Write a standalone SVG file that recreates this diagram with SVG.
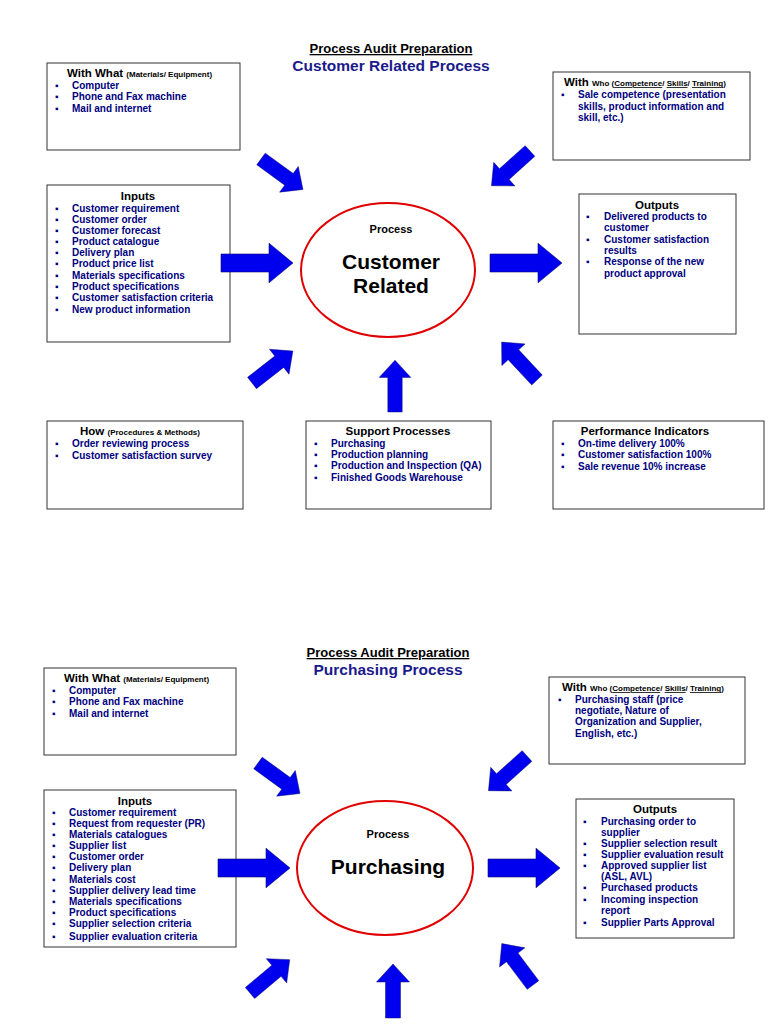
<svg xmlns="http://www.w3.org/2000/svg" width="768" height="1024" viewBox="0 0 768 1024">
<style>
text{font-family:"Liberation Sans",Arial,sans-serif;font-weight:bold}
.box{fill:#fff;stroke:#333;stroke-width:1}
.it{font-size:10px;fill:#000080}
.hd{font-size:11.5px;fill:#000}
.sm{font-size:8px;fill:#000}
.t1{font-size:13px;fill:#000;text-decoration:underline}
.t2{font-size:15.5px;fill:#1a1a8c}
.el{fill:#fff;stroke:#e00000;stroke-width:2}
.arr{fill:#0000ee;stroke:#000066;stroke-width:0.6}
</style>
<defs>
<path id="a" d="M0,-10 H48 V-22 L72,0 L48,22 V10 H0 Z"/>
</defs>
<rect width="768" height="1024" fill="#fff"/>

<g id="page1">
<text class="t1" x="391" y="53" text-anchor="middle">Process Audit Preparation</text>
<text class="t2" x="391" y="71" text-anchor="middle">Customer Related Process</text>
<g id="withwhat1"><rect class="box" x="47" y="63" width="193" height="87"/>
<text x="67" y="77"><tspan class="hd">With What </tspan><tspan class="sm">(Materials/ Equipment)</tspan></text>
<text class="it"><tspan x="55" y="89">▪</tspan><tspan x="72" y="89">Computer</tspan><tspan x="55" y="100">▪</tspan><tspan x="72" y="100">Phone and Fax machine</tspan><tspan x="55" y="112">▪</tspan><tspan x="72" y="112">Mail and internet</tspan></text></g>
<g id="withwho1"><rect class="box" x="553" y="72" width="197" height="88"/>
<text x="564" y="86"><tspan class="hd">With </tspan><tspan class="sm">Who (<tspan text-decoration="underline">Competence</tspan>/ <tspan text-decoration="underline">Skills</tspan>/ <tspan text-decoration="underline">Training</tspan>)</tspan></text>
<text class="it"><tspan x="561" y="98">▪</tspan><tspan x="578" y="98">Sale competence (presentation</tspan><tspan x="578" y="110">skills, product information and</tspan><tspan x="578" y="121">skill, etc.)</tspan></text></g>
<g id="inputs1"><rect class="box" x="47" y="185" width="183" height="157"/>
<text class="hd" x="138" y="200" text-anchor="middle">Inputs</text>
<text class="it"><tspan x="55" y="212">▪</tspan><tspan x="72" y="212">Customer requirement</tspan><tspan x="55" y="223">▪</tspan><tspan x="72" y="223">Customer order</tspan><tspan x="55" y="234">▪</tspan><tspan x="72" y="234">Customer forecast</tspan><tspan x="55" y="245">▪</tspan><tspan x="72" y="245">Product catalogue</tspan><tspan x="55" y="256">▪</tspan><tspan x="72" y="256">Delivery plan</tspan><tspan x="55" y="267">▪</tspan><tspan x="72" y="267">Product price list</tspan><tspan x="55" y="279">▪</tspan><tspan x="72" y="279">Materials specifications</tspan><tspan x="55" y="290">▪</tspan><tspan x="72" y="290">Product specifications</tspan><tspan x="55" y="301">▪</tspan><tspan x="72" y="301">Customer satisfaction criteria</tspan><tspan x="55" y="313">▪</tspan><tspan x="72" y="313">New product information</tspan></text></g>
<g id="outputs1"><rect class="box" x="579" y="194" width="157" height="140"/>
<text class="hd" x="657" y="209" text-anchor="middle">Outputs</text>
<text class="it"><tspan x="586" y="220">▪</tspan><tspan x="604" y="220">Delivered products to</tspan><tspan x="604" y="231">customer</tspan><tspan x="586" y="243">▪</tspan><tspan x="604" y="243">Customer satisfaction</tspan><tspan x="604" y="254">results</tspan><tspan x="586" y="265">▪</tspan><tspan x="604" y="265">Response of the new</tspan><tspan x="604" y="277">product approval</tspan></text></g>
<g id="how1"><rect class="box" x="47" y="421" width="196" height="88"/>
<text x="80" y="435"><tspan class="hd">How </tspan><tspan class="sm">(Procedures &amp; Methods)</tspan></text>
<text class="it"><tspan x="55" y="447">▪</tspan><tspan x="72" y="447">Order reviewing process</tspan><tspan x="55" y="459">▪</tspan><tspan x="72" y="459">Customer satisfaction survey</tspan></text></g>
<g id="support1"><rect class="box" x="306" y="421" width="185" height="88"/>
<text class="hd" x="398" y="435" text-anchor="middle">Support Processes</text>
<text class="it"><tspan x="314" y="447">▪</tspan><tspan x="331" y="447">Purchasing</tspan><tspan x="314" y="458">▪</tspan><tspan x="331" y="458">Production planning</tspan><tspan x="314" y="469">▪</tspan><tspan x="331" y="469">Production and Inspection (QA)</tspan><tspan x="314" y="481">▪</tspan><tspan x="331" y="481">Finished Goods Warehouse</tspan></text></g>
<g id="perf1"><rect class="box" x="553" y="421" width="211" height="88"/>
<text class="hd" x="645" y="435" text-anchor="middle">Performance Indicators</text>
<text class="it"><tspan x="561" y="447">▪</tspan><tspan x="578" y="447">On-time delivery 100%</tspan><tspan x="561" y="458">▪</tspan><tspan x="578" y="458">Customer satisfaction 100%</tspan><tspan x="561" y="470">▪</tspan><tspan x="578" y="470">Sale revenue 10% increase</tspan></text></g>
<g id="process1"><ellipse class="el" cx="388" cy="270" rx="87" ry="67"/>
<text x="391" y="233" text-anchor="middle" style="font-size:11px">Process</text>
<text x="391" y="269" text-anchor="middle" style="font-size:21px">Customer</text>
<text x="391" y="293" text-anchor="middle" style="font-size:21px">Related</text></g>
<g id="arrows1">
<use href="#a" class="arr" transform="translate(221,263) scale(1,0.9)"/>
<use href="#a" class="arr" transform="translate(490,263) scale(1,0.9)"/>
<use href="#a" class="arr" transform="translate(261,159) rotate(36) scale(0.72)"/>
<use href="#a" class="arr" transform="translate(530,151) rotate(138) scale(0.72)"/>
<use href="#a" class="arr" transform="translate(252,383) rotate(-38) scale(0.72)"/>
<use href="#a" class="arr" transform="translate(395,412) rotate(-90) scale(0.72)"/>
<use href="#a" class="arr" transform="translate(537,380) rotate(-133) scale(0.72)"/>
</g>
</g>

<g id="page2">
<text class="t1" x="388" y="657" text-anchor="middle">Process Audit Preparation</text>
<text class="t2" x="388" y="675" text-anchor="middle">Purchasing Process</text>
<g id="withwhat2"><rect class="box" x="44" y="668" width="192" height="87"/>
<text x="64" y="682"><tspan class="hd">With What </tspan><tspan class="sm">(Materials/ Equipment)</tspan></text>
<text class="it"><tspan x="52" y="694">▪</tspan><tspan x="69" y="694">Computer</tspan><tspan x="52" y="705">▪</tspan><tspan x="69" y="705">Phone and Fax machine</tspan><tspan x="52" y="717">▪</tspan><tspan x="69" y="717">Mail and internet</tspan></text></g>
<g id="withwho2"><rect class="box" x="549" y="677" width="196" height="87"/>
<text x="562" y="691"><tspan class="hd">With </tspan><tspan class="sm">Who (<tspan text-decoration="underline">Competence</tspan>/ <tspan text-decoration="underline">Skills</tspan>/ <tspan text-decoration="underline">Training</tspan>)</tspan></text>
<text class="it"><tspan x="558" y="703">▪</tspan><tspan x="575" y="703">Purchasing staff (price</tspan><tspan x="575" y="714">negotiate, Nature of</tspan><tspan x="575" y="725">Organization and Supplier,</tspan><tspan x="575" y="737">English, etc.)</tspan></text></g>
<g id="inputs2"><rect class="box" x="44" y="790" width="192" height="157"/>
<text class="hd" x="135" y="805" text-anchor="middle">Inputs</text>
<text class="it"><tspan x="52" y="816">▪</tspan><tspan x="69" y="816">Customer requirement</tspan><tspan x="52" y="827">▪</tspan><tspan x="69" y="827">Request from requester (PR)</tspan><tspan x="52" y="838">▪</tspan><tspan x="69" y="838">Materials catalogues</tspan><tspan x="52" y="849">▪</tspan><tspan x="69" y="849">Supplier list</tspan><tspan x="52" y="860">▪</tspan><tspan x="69" y="860">Customer order</tspan><tspan x="52" y="871">▪</tspan><tspan x="69" y="871">Delivery plan</tspan><tspan x="52" y="883">▪</tspan><tspan x="69" y="883">Materials cost</tspan><tspan x="52" y="894">▪</tspan><tspan x="69" y="894">Supplier delivery lead time</tspan><tspan x="52" y="905">▪</tspan><tspan x="69" y="905">Materials specifications</tspan><tspan x="52" y="916">▪</tspan><tspan x="69" y="916">Product specifications</tspan><tspan x="52" y="927">▪</tspan><tspan x="69" y="927">Supplier selection criteria</tspan><tspan x="52" y="940">▪</tspan><tspan x="69" y="940">Supplier evaluation criteria</tspan></text></g>
<g id="outputs2"><rect class="box" x="576" y="799" width="158" height="139"/>
<text class="hd" x="655" y="813" text-anchor="middle">Outputs</text>
<text class="it"><tspan x="583" y="825">▪</tspan><tspan x="601" y="825">Purchasing order to</tspan><tspan x="601" y="836">supplier</tspan><tspan x="583" y="847">▪</tspan><tspan x="601" y="847">Supplier selection result</tspan><tspan x="583" y="858">▪</tspan><tspan x="601" y="858">Supplier evaluation result</tspan><tspan x="583" y="869">▪</tspan><tspan x="601" y="869">Approved supplier list</tspan><tspan x="601" y="880">(ASL, AVL)</tspan><tspan x="583" y="891">▪</tspan><tspan x="601" y="891">Purchased products</tspan><tspan x="583" y="903">▪</tspan><tspan x="601" y="903">Incoming inspection</tspan><tspan x="601" y="914">report</tspan><tspan x="583" y="926">▪</tspan><tspan x="601" y="926">Supplier Parts Approval</tspan></text></g>
<g id="process2"><ellipse class="el" cx="385" cy="868" rx="88" ry="67"/>
<text x="388" y="838" text-anchor="middle" style="font-size:11px">Process</text>
<text x="388" y="874" text-anchor="middle" style="font-size:21px">Purchasing</text></g>
<g id="arrows2">
<use href="#a" class="arr" transform="translate(218,868) scale(1,0.9)"/>
<use href="#a" class="arr" transform="translate(488,868) scale(1,0.9)"/>
<use href="#a" class="arr" transform="translate(258,763) rotate(36) scale(0.72)"/>
<use href="#a" class="arr" transform="translate(527,756) rotate(138) scale(0.72)"/>
<use href="#a" class="arr" transform="translate(250,993) rotate(-40) scale(0.72)"/>
<use href="#a" class="arr" transform="translate(393,1018) rotate(-90) scale(0.75)"/>
<use href="#a" class="arr" transform="translate(533,985) rotate(-127) scale(0.72)"/>
</g>
</g>
</svg>
